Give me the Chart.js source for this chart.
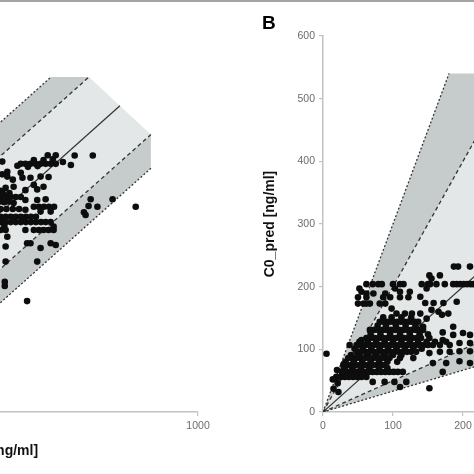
<!DOCTYPE html>
<html lang="en">
<head>
<meta charset="UTF-8">
<title>C0_pred vs C0_obs</title>
<script src="https://cdn.jsdelivr.net/npm/chart.js@4.4.1/dist/chart.umd.min.js"></script>
<style>
    html, body {
        margin: 0;
        padding: 0;
        width: 474px;
        height: 474px;
        overflow: hidden;
        background: #fff;
        font-family: "Liberation Sans", Arial, sans-serif;
    }
    .topbar {
        position: absolute;
        left: 0; top: 0;
        width: 474px; height: 2px;
        background: #a3a3a3;
    }
    .wrap { position: absolute; top: 0; height: 474px; }
    #wrapA { left: -300px; width: 520px; }
    #wrapB { left: 237px; width: 540px; }
    .panel-label {
        position: absolute;
        font: bold 19px "Liberation Sans", Arial, sans-serif;
        line-height: 1;
        color: #000;
    }
</style>
</head>
<body>

<div class="wrap" id="wrapA"><canvas id="chartA" width="520" height="474"></canvas></div>
<div class="wrap" id="wrapB"><canvas id="chartB" width="540" height="474"></canvas></div>
<div class="topbar"></div>
<div class="panel-label" style="left:262px; top:13px;">B</div>

<script>
    // ---- panel A (left, mostly cut off): additive limits ----
    const axisA = { min: 0, max: 1000, xStep: 500, yStep: 200 };
    const bandOffsetsA = [150, 240];   // inner (dashed), outer (dotted)
    const bandTopA = 891;              // upper bands stop here (y)
    const bandRightA = 888;            // lower bands stop here (x)
    const pointsA = [
        [707, 682], [750, 682], [643, 683], [662, 683],
        [610, 670], [633, 670], [535, 666], [679, 665], [655, 672],
        [579, 660], [590, 660], [602, 660], [614, 660], [626, 660], [638, 660], [650, 660], [662, 660],
        [571, 655], [596, 652], [619, 654],
        [698, 657], [547, 639], [579, 636], [547, 626], [535, 632],
        [583, 623], [602, 623], [626, 626], [645, 625], [560, 618],
        [610, 604], [633, 599], [562, 599], [543, 596], [590, 590], [618, 592], [531, 588],
        [531, 572], [543, 572], [555, 572], [567, 572], [579, 572], [537, 580], [552, 582],
        [590, 564], [618, 564], [638, 566], [745, 566], [797, 566],
        [531, 560], [540, 558], [550, 560], [562, 556],
        [740, 548], [761, 546],
        [610, 546], [622, 546], [634, 546], [646, 546], [658, 546], [852, 546],
        [531, 540], [545, 540], [560, 540], [575, 540], [590, 538],
        [626, 533], [650, 533], [729, 531], [733, 524],
        [531, 519], [543, 519], [555, 519], [567, 519], [579, 519], [591, 519], [603, 519], [615, 519],
        [537, 512], [560, 512], [584, 511],
        [531, 505], [543, 505], [555, 505], [567, 505], [579, 505], [591, 505], [603, 505], [615, 505],
        [627, 505], [638, 505], [650, 505],
        [657, 493], [540, 495],
        [531, 484], [543, 484], [590, 484], [610, 484], [622, 484], [633, 484], [645, 484], [657, 484],
        [547, 466],
        [594, 449], [602, 449], [650, 449], [662, 444], [543, 440], [626, 436],
        [543, 400], [618, 400],
        [541, 346], [541, 335], [594, 295]
    ];

    // ---- panel B: proportional limits ----
    const axisB = { min: 0, max: 600, step: 100 };
    const bandRatiosB = [2, 3];        // inner (dashed), outer (dotted)
    const bandTopB = 540;
    const pointsB = [
        [187, 232], [193, 232], [210, 232],
        [152, 218], [167, 218], [155, 213],
        [62, 204], [71, 204], [79, 204], [84, 204], [100, 204], [110, 204], [115, 204], [141, 204],
        [150, 204], [153, 204], [162, 204], [174, 204], [186, 204], [191, 204], [196, 204], [201, 204],
        [206, 204], [211, 204], [215, 204],
        [52, 197], [103, 197], [148, 197],
        [55, 192], [110, 192], [124, 192],
        [62, 189], [72, 189], [89, 189],
        [50, 183], [62, 183], [86, 183], [96, 183], [110, 183], [122, 183], [139, 184],
        [191, 176], [146, 174], [158, 174], [172, 174],
        [50, 173], [58, 173], [62, 173], [67, 173], [81, 173], [89, 173],
        [98, 165], [155, 163], [165, 160],
        [105, 157], [117, 157], [127, 157], [139, 157], [179, 157], [170, 155],
        [148, 149], [86, 151], [98, 151], [112, 151], [126, 151],
        [81, 144], [86, 144], [91, 144], [96, 144], [101, 144], [106, 144], [111, 144], [116, 144],
        [121, 144], [126, 144], [131, 144], [136, 144],
        [143, 136], [186, 136], [78, 138], [90, 138], [104, 138], [118, 138], [132, 138],
        [67, 131], [73, 131], [79, 131], [85, 131], [91, 131], [97, 131], [103, 131], [109, 131],
        [115, 131], [121, 131], [127, 131], [133, 131], [139, 131], [143, 131],
        [171, 127], [200, 126], [186, 123], [210, 123],
        [68, 124], [82, 124], [96, 124], [110, 124], [124, 124], [138, 124], [150, 124],
        [62, 118], [68, 118], [74, 118], [80, 118], [86, 118], [92, 118], [98, 118], [104, 118],
        [110, 118], [116, 118], [122, 118], [128, 118], [134, 118], [140, 118], [152, 118],
        [55, 115], [171, 115],
        [52, 112], [64, 112], [76, 112], [88, 112], [100, 112], [112, 112], [124, 112], [136, 112],
        [148, 112], [160, 112], [176, 112],
        [38, 107], [48, 107], [54, 107], [60, 107], [66, 107], [72, 107], [78, 107], [84, 107],
        [90, 107], [96, 107], [102, 107], [108, 107], [114, 107], [120, 107], [126, 107], [132, 107],
        [138, 107], [144, 107], [150, 107], [157, 107], [167, 107], [181, 107], [195, 110], [210, 110],
        [45, 101], [57, 101], [69, 101], [81, 101], [93, 101], [105, 101], [117, 101], [129, 101], [141, 101],
        [48, 96], [54, 96], [60, 96], [66, 96], [72, 96], [78, 96], [84, 96], [90, 96],
        [96, 96], [102, 96], [108, 96], [114, 96], [120, 96], [126, 96], [133, 96],
        [152, 94], [167, 96], [181, 96], [195, 97], [210, 97],
        [5, 93],
        [40, 91], [52, 91], [64, 91], [76, 91], [88, 91], [100, 91], [112, 91],
        [36, 86], [42, 86], [48, 86], [54, 86], [60, 86], [66, 86], [72, 86], [78, 86],
        [84, 86], [90, 86], [95, 86], [110, 86], [129, 86],
        [32, 80], [44, 80], [56, 80], [68, 80], [80, 80], [92, 80], [106, 80],
        [157, 78], [176, 78], [195, 81], [210, 78],
        [29, 75], [35, 75], [41, 75], [47, 75], [53, 75], [59, 75], [65, 75], [71, 75], [77, 75], [83, 75], [86, 75],
        [30, 70], [42, 70], [54, 70], [66, 70], [80, 70], [92, 70],
        [20, 67], [27, 64],
        [29, 64], [35, 64], [41, 64], [47, 64], [53, 64], [59, 64], [65, 64], [71, 64],
        [77, 64], [83, 64], [89, 64], [95, 64], [101, 64], [107, 64], [114, 64], [171, 64],
        [19, 56], [25, 56], [31, 56], [37, 56], [43, 56], [49, 56], [55, 56], [62, 56],
        [14, 52],
        [21, 46], [71, 48], [88, 48], [102, 48], [119, 48],
        [110, 40], [152, 38], [15, 37], [22, 32]
    ];

    const FONT = '"Liberation Sans", Arial, sans-serif';
    const LIGHT = '#e4e7e7';
    const DARK = '#c6cccb';
    const AXIS = '#c2c2c2';

    const xy = pairs => pairs.map(p => ({ x: p[0], y: p[1] }));

    function pointSet(pairs) {
        return {
            data: xy(pairs),
            pointRadius: 3.3,
            pointBackgroundColor: '#0d0d0d',
            pointBorderWidth: 0
        };
    }

    function edge(pairs, dash, width) {
        return {
            data: xy(pairs),
            showLine: true,
            pointRadius: 0,
            borderColor: '#333',
            borderWidth: width || 1.3,
            borderDash: dash
        };
    }

    function area(pairs, color) {
        return {
            data: xy(pairs),
            showLine: true,
            pointRadius: 0,
            borderWidth: 0,
            backgroundColor: color,
            fill: 'shape'
        };
    }

    function axis(cfg, step, title, titlePad) {
        return {
            type: 'linear',
            min: cfg.min,
            max: cfg.max,
            ticks: {
                stepSize: step,
                color: '#6b6b6b',
                padding: 4,
                format: { useGrouping: false },
                font: { family: FONT, size: 10.5 }
            },
            grid: { drawOnChartArea: false, tickLength: 4, color: AXIS, lineWidth: 1.2 },
            border: { color: AXIS, width: 1.5 },
            title: {
                display: true,
                text: title,
                color: '#111',
                font: { family: FONT, size: 14, weight: 'bold' },
                padding: titlePad
            }
        };
    }

    // move the plot box to a fixed spot on the canvas
    function pinArea(chart, pad, want) {
        for (let i = 0; i < 3; i++) {
            const a = chart.chartArea;
            pad.left += want.left - a.left;
            pad.top += want.top - a.top;
            pad.right += a.right - want.right;
            pad.bottom += a.bottom - want.bottom;
            chart.update('none');
        }
    }

    function makeChart(id, datasets, scales) {
        const pad = { left: 0, top: 0, right: 0, bottom: 0 };
        const chart = new Chart(document.getElementById(id), {
            type: 'scatter',
            data: { datasets: datasets },
            options: {
                responsive: false,
                animation: false,
                events: [],
                layout: { padding: pad },
                plugins: { legend: { display: false }, tooltip: { enabled: false } },
                scales: scales
            }
        });
        return { chart, pad };
    }

    // ---- panel A ----
    const [inA, outA] = bandOffsetsA;
    const tA = bandTopA, rA = bandRightA;
    const A = makeChart('chartA', [
        pointSet(pointsA),
        edge([[0, 0], [(tA - inA + rA) / 2, (tA + rA - inA) / 2]], [], 1.2),
        edge([[0, outA], [tA - outA, tA]], [2, 2]),
        edge([[0, inA], [tA - inA, tA]], [4, 3]),
        edge([[inA, 0], [rA, rA - inA]], [4, 3]),
        edge([[outA, 0], [rA, rA - outA]], [2, 2]),
        area([[0, outA], [tA - outA, tA], [tA - inA, tA], [0, inA], [0, outA]], DARK),
        area([[0, inA], [tA - inA, tA], [rA, rA - inA], [inA, 0], [0, 0], [0, inA]], LIGHT),
        area([[inA, 0], [rA, rA - inA], [rA, rA - outA], [outA, 0], [inA, 0]], DARK)
    ], {
        x: axis(axisA, axisA.xStep, 'C0_obs [ng/ml]', { top: 6, bottom: 0 }),
        y: axis(axisA, axisA.yStep, 'C0_pred [ng/ml]', { top: 4, bottom: 15 })
    });
    pinArea(A.chart, A.pad, { left: 77, top: 36, right: 497, bottom: 412 });

    // ---- panel B ----
    const [inB, outB] = bandRatiosB;
    const tB = bandTopB;
    const B = makeChart('chartB', [
        pointSet(pointsB),
        edge([[0, 0], [(tB / inB + tB) / 2, (tB + tB / inB) / 2]], [], 1.2),
        edge([[0, 0], [tB / outB, tB]], [2, 2]),
        edge([[0, 0], [tB / inB, tB]], [4, 3]),
        edge([[0, 0], [tB, tB / inB]], [4, 3]),
        edge([[0, 0], [tB, tB / outB]], [2, 2]),
        area([[0, 0], [tB / outB, tB], [tB / inB, tB], [0, 0]], DARK),
        area([[0, 0], [tB / inB, tB], [tB, tB / inB], [0, 0]], LIGHT),
        area([[0, 0], [tB, tB / inB], [tB, tB / outB], [0, 0]], DARK)
    ], {
        x: axis(axisB, axisB.step, 'C0_obs [ng/ml]', { top: 6, bottom: 0 }),
        y: axis(axisB, axisB.step, 'C0_pred [ng/ml]', { top: 4, bottom: 15 })
    });
    pinArea(B.chart, B.pad, { left: 86, top: 36, right: 506, bottom: 412 });
</script>

</body>
</html>
